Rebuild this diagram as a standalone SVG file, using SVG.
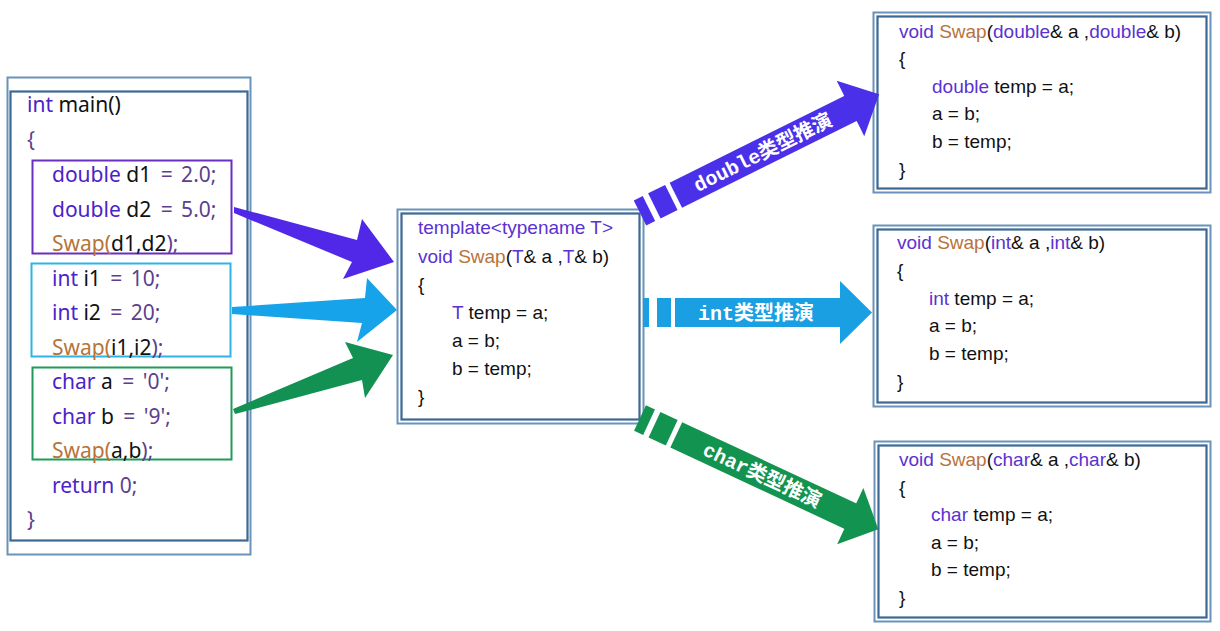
<svg xmlns="http://www.w3.org/2000/svg" width="1220" height="631" viewBox="0 0 1220 631">
<style>
.bo{fill:none;stroke:#6a92ba;stroke-width:2}
.bi{fill:none;stroke:#3b6894;stroke-width:2.2}
.bg{fill:#fff}
.m{font-family:"Noto Sans","Open Sans",sans-serif;font-size:21px;fill:#111}
.c{font-family:"Liberation Sans",Arial,sans-serif;font-size:19px;fill:#111}
.kw{fill:#4b23c9}
.op{fill:#5d3f8e}
.sw{fill:#b8733a}
.pu{fill:#5a32d2}
.lbl{font-family:"Liberation Mono","Noto Sans CJK SC",monospace;font-size:20px;font-weight:bold;fill:#fff}
</style>
<rect width="1220" height="631" fill="#fff"/>
<g id="main">
  <rect class="bg" x="7" y="77" width="244" height="478"/>
  <rect class="bo" x="7.5" y="77.5" width="243" height="477"/>
  <rect class="bi" x="10.5" y="91.5" width="237" height="449"/>
  <rect x="32.5" y="160.5" width="199" height="93" fill="none" stroke="#6a2fc0" stroke-width="2"/>
  <rect x="31.5" y="263.5" width="199" height="93" fill="none" stroke="#2fb3e6" stroke-width="2"/>
  <rect x="32.5" y="367.5" width="199" height="92" fill="none" stroke="#1f9a5a" stroke-width="2"/>
  <text class="m" x="27" y="112"><tspan class="kw">int</tspan> main()</text>
  <text class="m op" x="27" y="147">{</text>
  <text class="m" x="52" y="182"><tspan class="kw">double</tspan> d1 <tspan class="op" dx="4">=</tspan><tspan class="op" dx="3"> 2.0;</tspan></text>
  <text class="m" x="52" y="217"><tspan class="kw">double</tspan> d2 <tspan class="op" dx="4">=</tspan><tspan class="op" dx="3"> 5.0;</tspan></text>
  <text class="m" x="52" y="251"><tspan class="sw">Swap(</tspan>d1,d2<tspan class="op">);</tspan></text>
  <text class="m" x="52" y="286"><tspan class="kw">int</tspan> i1 <tspan class="op" dx="4">=</tspan><tspan class="op" dx="3"> 10;</tspan></text>
  <text class="m" x="52" y="320"><tspan class="kw">int</tspan> i2 <tspan class="op" dx="4">=</tspan><tspan class="op" dx="3"> 20;</tspan></text>
  <text class="m" x="52" y="355"><tspan class="sw">Swap(</tspan>i1,i2<tspan class="op">);</tspan></text>
  <text class="m" x="52" y="389"><tspan class="kw">char</tspan> a <tspan class="op" dx="4">=</tspan><tspan class="op" dx="3"> '0';</tspan></text>
  <text class="m" x="52" y="424"><tspan class="kw">char</tspan> b <tspan class="op" dx="4">=</tspan><tspan class="op" dx="3"> '9';</tspan></text>
  <text class="m" x="52" y="458"><tspan class="sw">Swap(</tspan>a,b<tspan class="op">);</tspan></text>
  <text class="m" x="52" y="493"><tspan class="kw">return</tspan> <tspan class="op">0;</tspan></text>
  <text class="m op" x="27" y="527">}</text>
</g>
<g id="template">
  <rect class="bg" x="397" y="209" width="247" height="215"/>
  <rect class="bo" x="397.5" y="209.5" width="246" height="214"/>
  <rect class="bi" x="401.5" y="213.5" width="238" height="206"/>
  <text class="c pu" x="418" y="234">template&lt;typename T&gt;</text>
  <text class="c" x="418" y="263"><tspan class="pu">void</tspan> <tspan class="sw">Swap</tspan>(<tspan class="pu">T</tspan>&amp; a ,<tspan class="pu">T</tspan>&amp; b)</text>
  <text class="c" x="418" y="291">{</text>
  <text class="c" x="452" y="319"><tspan class="pu">T</tspan> temp = a;</text>
  <text class="c" x="452" y="347">a = b;</text>
  <text class="c" x="452" y="375">b = temp;</text>
  <text class="c" x="418" y="403">}</text>
</g>
<g id="swap-double">
  <rect class="bg" x="873" y="12" width="338" height="181"/>
  <rect class="bo" x="873.5" y="12.5" width="337" height="180"/>
  <rect class="bi" x="877.5" y="16.5" width="329" height="172"/>
  <text class="c" x="899" y="38"><tspan class="pu">void</tspan> <tspan class="sw">Swap</tspan>(<tspan class="pu">double</tspan>&amp; a ,<tspan class="pu">double</tspan>&amp; b)</text>
  <text class="c" x="899" y="65">{</text>
  <text class="c" x="932" y="93"><tspan class="pu">double</tspan> temp = a;</text>
  <text class="c" x="932" y="120">a = b;</text>
  <text class="c" x="932" y="148">b = temp;</text>
  <text class="c" x="899" y="176">}</text>
</g>
<g id="swap-int">
  <rect class="bg" x="873" y="225" width="338" height="182"/>
  <rect class="bo" x="873.5" y="225.5" width="337" height="181"/>
  <rect class="bi" x="877.5" y="229.5" width="329" height="173"/>
  <text class="c" x="897" y="249"><tspan class="pu">void</tspan> <tspan class="sw">Swap</tspan>(<tspan class="pu">int</tspan>&amp; a ,<tspan class="pu">int</tspan>&amp; b)</text>
  <text class="c" x="897" y="277">{</text>
  <text class="c" x="929" y="305"><tspan class="pu">int</tspan> temp = a;</text>
  <text class="c" x="929" y="332">a = b;</text>
  <text class="c" x="929" y="360">b = temp;</text>
  <text class="c" x="897" y="388">}</text>
</g>
<g id="swap-char">
  <rect class="bg" x="874" y="441" width="337" height="181"/>
  <rect class="bo" x="874.5" y="441.5" width="336" height="180"/>
  <rect class="bi" x="878.5" y="445.5" width="328" height="172"/>
  <text class="c" x="899" y="466"><tspan class="pu">void</tspan> <tspan class="sw">Swap</tspan>(<tspan class="pu">char</tspan>&amp; a ,<tspan class="pu">char</tspan>&amp; b)</text>
  <text class="c" x="899" y="494">{</text>
  <text class="c" x="931" y="521"><tspan class="pu">char</tspan> temp = a;</text>
  <text class="c" x="931" y="549">a = b;</text>
  <text class="c" x="931" y="576">b = temp;</text>
  <text class="c" x="899" y="604">}</text>
</g>
<g id="connectors">
  <polygon points="234,207 357,240 362,219 394,262 343,279 352,262 234,213" fill="#5128e8"/>
  <polygon points="232,307 365,298 367,278 397,310 357,342 362,323 232,314" fill="#17a3ea"/>
  <polygon points="233,409 353,358 345,342 393,355 365,398 362,380 235,414" fill="#139153"/>
  <g transform="translate(640,213) rotate(-26.4)" fill="#4a30e8">
    <rect x="0" y="-14" width="10" height="28"/>
    <rect x="16" y="-14" width="19" height="28"/>
    <rect x="40" y="-14" width="196" height="28"/>
    <polygon points="235,-31 267,0 235,31"/>
    <text class="lbl" x="137" y="7" text-anchor="middle">double类型推演</text>
  </g>
  <g transform="translate(643,312.5)" fill="#1a9fe3">
    <rect x="0" y="-14.5" width="6" height="29"/>
    <rect x="14" y="-14.5" width="14" height="29"/>
    <rect x="32" y="-14.5" width="166" height="29"/>
    <polygon points="197,-31.5 229,0 197,31.5"/>
    <text class="lbl" x="113" y="7" text-anchor="middle">int类型推演</text>
  </g>
  <g transform="translate(640,418) rotate(25)" fill="#12934f">
    <rect x="0" y="-14" width="10" height="28"/>
    <rect x="16" y="-14" width="19" height="28"/>
    <rect x="40" y="-14" width="193" height="28"/>
    <polygon points="232,-31 263,0 232,31"/>
    <text class="lbl" x="135" y="7" text-anchor="middle">char类型推演</text>
  </g>
</g>
</svg>
